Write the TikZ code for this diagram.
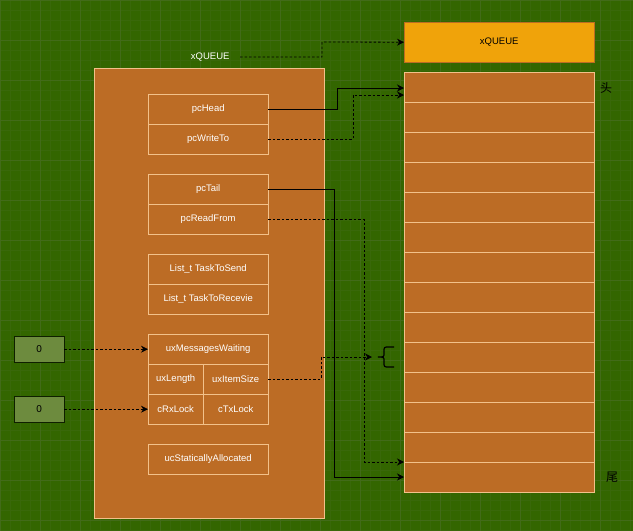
\documentclass[tikz,border=0pt]{standalone}
\usepackage{fontspec}
\setmainfont{Liberation Sans}
\newfontfamily\cjk{Noto Sans CJK SC}
\usetikzlibrary{arrows.meta}
\definecolor{bgreen}{HTML}{336600}
\definecolor{rust}{HTML}{BC6C25}
\definecolor{edge}{HTML}{F2C18A}
\definecolor{gold}{HTML}{F0A30A}
\definecolor{zbox}{HTML}{6D8B3E}
\tikzset{
  field/.style={draw=edge,fill=rust,text=white,font=\fontsize{9.5}{11}\selectfont,inner sep=0pt,anchor=north west},
  link/.style={-{Stealth[length=7pt,width=7pt]},black,line width=0.8pt},
  dlink/.style={link,dash pattern=on 2.5pt off 2pt},
}
\begin{document}
\begin{tikzpicture}[x=1pt,y=-1pt]
  \useasboundingbox (0,0) rectangle (633,531);
  %% background and grid
  \fill[bgreen] (0,0) rectangle (633,531);
  \foreach \k in {0,10,...,630} {
    \draw[bgreen!92!gray,line width=0.3pt] (\k,0) -- (\k,531);
  }
  \foreach \k in {0,10,...,530} {
    \draw[bgreen!92!gray,line width=0.3pt] (0,\k) -- (633,\k);
  }
  \foreach \k in {0,40,...,630} {
    \draw[bgreen!80!gray,line width=0.4pt] (\k,0) -- (\k,531);
  }
  \foreach \k in {0,40,...,530} {
    \draw[bgreen!80!gray,line width=0.4pt] (0,\k) -- (633,\k);
  }

  % struct body
  \node[field,minimum width=230,minimum height=450] (body) at (94,68) {};
  \foreach \name/\y/\txt in {head/94/pcHead,wto/124/pcWriteTo,tail/174/pcTail,
      rfrom/204/pcReadFrom,send/254/List\_t TaskToSend,recv/284/List\_t TaskToRecevie,
      wait/334/uxMessagesWaiting,stat/444/ucStaticallyAllocated} {
    \node[field,minimum width=120,minimum height=30] (\name) at (148,\y) {\txt};
  }
  \node[field,minimum width=55,minimum height=30] (len) at (148,364) {uxLength};
  \node[field,minimum width=65,minimum height=30] (isz) at (203,364) {uxItemSize};
  \node[field,minimum width=55,minimum height=30] (rx) at (148,394) {cRxLock};
  \node[field,minimum width=65,minimum height=30] (tx) at (203,394) {cTxLock};

  % queue storage
  \node[field,fill=gold,draw=rust,text=black,minimum width=190,minimum height=40] (hdr) at (404,22) {xQUEUE};
  \foreach \i in {0,...,13} {
    \node[field,minimum width=190,minimum height=30] (q\i) at (404,72+30*\i) {};
  }
  \node[font=\cjk\fontsize{12}{13}\selectfont] (tou) at (606,88) {头};
  \node[font=\cjk\fontsize{12}{13}\selectfont] (wei) at (612,477) {尾};

  % lock counters
  \node[draw=black!70!bgreen,fill=zbox,minimum width=50,minimum height=26,inner sep=0pt,anchor=north west,font=\normalsize] (z1) at (14,336) {0};
  \node[draw=black!70!bgreen,fill=zbox,minimum width=50,minimum height=26,inner sep=0pt,anchor=north west,font=\normalsize] (z2) at (14,396) {0};
  \node[text=white,font=\fontsize{9.5}{11}\selectfont,anchor=east] (lbl) at (233,57) {xQUEUE};
  \coordinate (brc) at (372,357);

  % pointers
  \draw[dlink] (lbl.east) ++(7,0) -| (322,42) -- (hdr.west);
  \draw[link] (head.east) -| (337,88) -- (404,88);
  \draw[dlink] (wto.east) -| (353,95) -- (404,95);
  \draw[link] (tail.east) -| (334,477) -- (404,477);
  \draw[dlink] (rfrom.east) -| (364,462) -- (404,462);
  \draw[dlink] (isz.east) -| (321,357) -- (brc);
  \draw[dlink] (z1.east) -- (wait.west);
  \draw[dlink] (z2.east) -- (rx.west);
  \draw[black,line width=1.2pt] (394,347) -- (389,347) .. controls (384,347) .. (384,352) -- (384,353)
    .. controls (384,357) .. (378,357) .. controls (384,357) .. (384,361) -- (384,362)
    .. controls (384,367) .. (389,367) -- (394,367);
\end{tikzpicture}
\end{document}
